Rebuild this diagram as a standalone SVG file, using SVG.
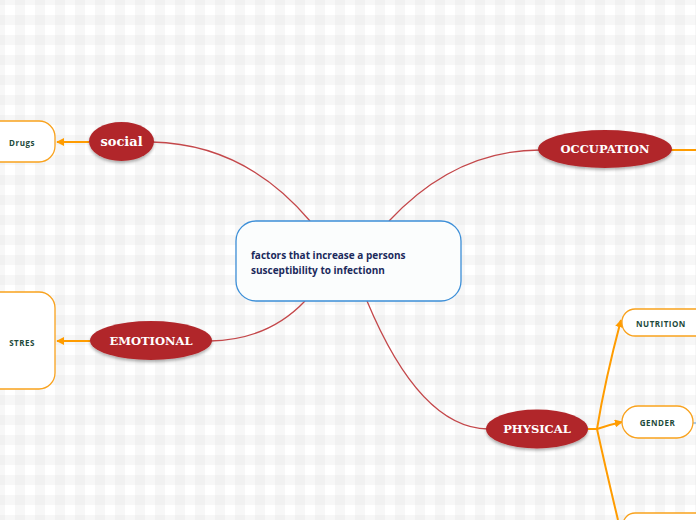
<svg xmlns="http://www.w3.org/2000/svg" width="696" height="520" viewBox="0 0 696 520">
<defs>
<pattern id="grid" x="15" y="15" width="20" height="20" patternUnits="userSpaceOnUse">
<rect width="20" height="20" fill="#ffffff"/>
<rect x="0" y="0" width="10" height="20" fill="#f7f7f7"/>
<rect x="0" y="0" width="20" height="10" fill="#f7f7f7"/>
<rect x="0" y="0" width="10" height="10" fill="#f1f1f1"/>
</pattern>
<marker id="arr" viewBox="0 0 10 10" refX="9" refY="5" markerWidth="8" markerHeight="8" orient="auto" markerUnits="userSpaceOnUse">
<path d="M0,0 L10,5 L0,10 z" fill="#ff9c00"/>
</marker>
<filter id="sh" x="-20%" y="-30%" width="140%" height="170%">
<feDropShadow dx="0" dy="2" stdDeviation="1.5" flood-color="#000" flood-opacity="0.3"/>
</filter>
</defs>
<style>
.main{fill:#b1272b;filter:url(#sh)}
.mlbl{fill:#ffffff;font-family:"DejaVu Serif",serif;font-weight:bold;text-anchor:middle;dominant-baseline:central}
.sub{fill:#ffffff;stroke:#f9a21d;stroke-width:1.3}
.slbl{fill:#1d4a3b;font-family:"Open Sans","Liberation Sans",sans-serif;font-weight:bold;font-size:8px;text-anchor:middle;dominant-baseline:central;letter-spacing:0.5px}
.red{fill:none;stroke:#c4474a;stroke-width:1.3}
.org{fill:none;stroke:#ff9c00;stroke-width:2}
.ctr{font-family:"Open Sans","Liberation Sans",sans-serif;font-weight:bold;font-size:10px;fill:#1b2a5c}
</style>
<rect width="696" height="520" fill="url(#grid)"/>
<g id="connectors">
<path class="red" d="M152,142 Q245,144 310,221"/>
<path class="red" d="M389,221 Q455,150 540,150"/>
<path class="red" d="M305,301 Q268,340 210,341"/>
<path class="red" d="M367,301 Q420,428 488,429"/>
<path class="org" d="M89,142 L57,142" marker-end="url(#arr)"/>
<path class="org" d="M90,341 L57,341" marker-end="url(#arr)"/>
<path class="org" d="M670,150 L696,150"/>
<path class="org" d="M586,429 L597,429"/>
<path class="org" d="M597,429 Q605,380 621,320" marker-end="url(#arr)"/>
<path class="org" d="M597,429 Q608,425 622,422" marker-end="url(#arr)"/>
<path class="org" d="M597,429 Q606,470 618,520"/>
<path fill="none" stroke="#5b9bd5" stroke-width="1" d="M693,423 L696,423"/>
</g>
<g id="central">
<rect x="236" y="221" width="225" height="80" rx="20" fill="#fbfdfd" stroke="#3d8fd8" stroke-width="1.3"/>
<text class="ctr" x="251" y="259">factors that increase a persons</text>
<text class="ctr" x="251" y="274">susceptibility to infectionn</text>
</g>
<g id="social">
<ellipse class="main" cx="121.5" cy="141.5" rx="32.5" ry="19.5"/>
<text class="mlbl" x="121.5" y="141.5" font-size="13">social</text>
</g>
<g id="emotional">
<ellipse class="main" cx="151" cy="340.5" rx="61" ry="19.5"/>
<text class="mlbl" x="151" y="340.5" font-size="11.5">EMOTIONAL</text>
</g>
<g id="occupation">
<ellipse class="main" cx="605" cy="149" rx="67" ry="19"/>
<text class="mlbl" x="605" y="149" font-size="11.5">OCCUPATION</text>
</g>
<g id="physical">
<ellipse class="main" cx="537" cy="429" rx="51" ry="19.5"/>
<text class="mlbl" x="537" y="429" font-size="11.5">PHYSICAL</text>
</g>
<g id="drugs">
<rect class="sub" x="-20" y="121" width="75" height="41" rx="16"/>
<text class="slbl" x="22" y="142">Drugs</text>
</g>
<g id="stres">
<rect class="sub" x="-20" y="292" width="75" height="97" rx="16"/>
<text class="slbl" x="22" y="342">STRES</text>
</g>
<g id="nutrition">
<rect class="sub" x="622" y="309" width="100" height="27" rx="13"/>
<text class="slbl" x="661" y="323">NUTRITION</text>
</g>
<g id="gender">
<rect class="sub" x="622" y="406" width="71" height="32" rx="16"/>
<text class="slbl" x="657.5" y="422.5">GENDER</text>
</g>
<g id="bottom-node">
<rect class="sub" x="623" y="513" width="100" height="30" rx="12"/>
</g>
</svg>
